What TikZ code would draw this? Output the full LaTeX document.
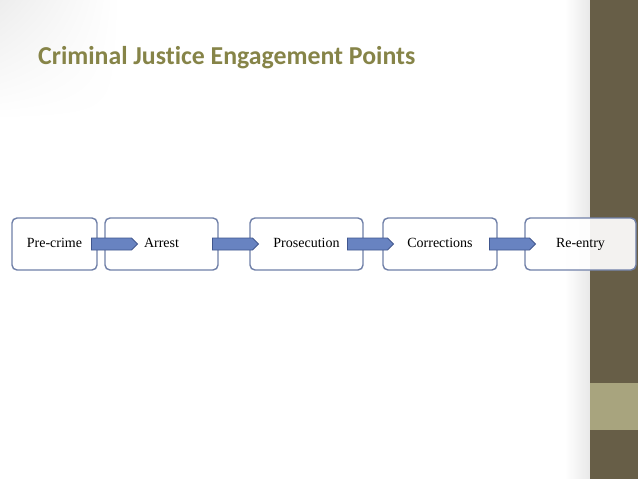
\documentclass[tikz,border=0pt]{standalone}
\usepackage{fontspec}
\setmainfont{Liberation Serif}
\newfontfamily\titlefont[Ligatures=NoCommon]{Carlito}
\usetikzlibrary{shapes.arrows,shadings,positioning}
\definecolor{sidebarbrown}{RGB}{103,94,71}
\definecolor{sidebarolive}{RGB}{168,164,126}
\definecolor{titleolive}{RGB}{134,132,72}
\definecolor{stageline}{RGB}{112,128,168}
\definecolor{arrowfill}{RGB}{104,131,193}
\definecolor{arrowline}{RGB}{64,86,142}

\begin{document}
\begin{tikzpicture}[x=1pt, y=-1pt,
  stagebox/.style={draw=stageline, line width=1.4pt, rounded corners=5pt,
    fill=white, fill opacity=0.92, text opacity=1, minimum height=52pt,
    inner sep=0pt, text height=9pt, text depth=3pt,
    font=\fontsize{14}{16}\selectfont},
  flowarrow/.style={single arrow, single arrow head extend=0pt,
    single arrow tip angle=90, draw=arrowline, fill=arrowfill,
    line width=0.9pt, minimum width=12pt, minimum height=46pt,
    inner sep=0pt, anchor=west}]
\useasboundingbox (0,0) rectangle (638,479);
\fill[white] (0,0) rectangle (638,479);
\shade[upper left=black!7, upper right=white, lower left=white, lower right=white] (0,0) rectangle (120,120);
\shade[left color=white, right color=black!9] (565,0) rectangle (590,479);
\fill[sidebarbrown] (590,0) rectangle (638,479);
\fill[sidebarolive] (590,383) rectangle (638,430);

\node[anchor=base west, text=titleolive, inner sep=0pt,
  font=\titlefont\bfseries\fontsize{25.8}{30}\selectfont] (title) at (38,64)
  {Criminal Justice Engagement Points};

\node[stagebox, minimum width=85pt] (precrime) at (54.5,244) {Pre-crime};
\node[stagebox, minimum width=113pt] (arrest) at (161.5,244) {Arrest};
\node[stagebox, minimum width=113pt] (prosecution) at (306.5,244) {Prosecution};
\node[stagebox, minimum width=114pt] (corrections) at (440,244) {Corrections};
\node[stagebox, minimum width=111pt] (reentry) at (580.5,244) {Re-entry};

\node[flowarrow] (toarrest) at (91,244) {};
\node[flowarrow] (toprosecution) at (212,244) {};
\node[flowarrow] (tocorrections) at (347,244) {};
\node[flowarrow] (toreentry) at (489,244) {};
\end{tikzpicture}
\end{document}
